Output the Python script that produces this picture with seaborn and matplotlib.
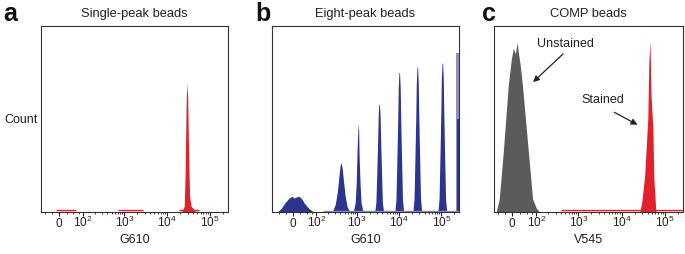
import matplotlib
matplotlib.use("Agg")
import matplotlib.pyplot as plt
from matplotlib.ticker import NullFormatter
import seaborn as sns

# ---- data (x in fluorescence units, y in % of axis height) ----
# panel a: single-peak beads (G610)
a_peak_x = [22300, 24900, 26200, 27700, 28800, 30000, 31700, 33400, 36200, 40300, 44900]
a_peak_y = [0.5, 3, 20, 60, 69, 62, 30, 8, 3, 2, 0.5]
a_low_start = [-10, 714, 19000]
a_low_end = [63, 2740, 55700]
a_low_level = 1.0

# panel b: eight-peak beads (G610)
b_blank_x = [-58, -41, -27, -13, -3, 3, 10, 20, 30, 41, 58, 78]
b_blank_y = [0, 2, 5, 7.5, 8.5, 7.5, 8, 8.5, 7, 4.5, 2, 0.3]
b_p2_x = [253, 298, 333, 371, 392, 414, 437, 461, 515, 573, 674]
b_p2_y = [0, 4, 10, 20, 25, 26.5, 24, 19, 9, 3, 0]
b_p3_x = [808, 898, 948, 1001, 1053, 1085, 1114, 1175, 1240, 1379]
b_p3_y = [0, 5, 15, 35, 47.5, 44, 30, 15, 5, 0]
b_p4_x = [2617, 2790, 2960, 3077, 3160, 3280, 3387, 3517, 3613, 3753, 3981, 4247]
b_p4_y = [0, 5.2, 24.9, 38.9, 51.6, 58, 58, 51.6, 38.9, 24.9, 5.2, 0]
b_p5_x = [7841, 8360, 8870, 9219, 9469, 9829, 10148, 10537, 10827, 11247, 11926, 12725]
b_p5_y = [0, 6.8, 32.3, 50.3, 66.8, 75, 75, 66.8, 50.3, 32.3, 6.8, 0]
b_p6_x = [21046, 22439, 23807, 24745, 25416, 26380, 27239, 28284, 29061, 30188, 32010, 34155]
b_p6_y = [0, 7, 33.5, 52.3, 69.4, 78, 78, 69.4, 52.3, 33.5, 7, 0]
b_p7_x = [82653, 88127, 93497, 97183, 99814, 103605, 106975, 111081, 114134, 118557, 125716, 134139]
b_p7_y = [0, 7.2, 34.4, 53.6, 71.2, 80, 80, 71.2, 53.6, 34.4, 7.2, 0]
b_edge_x = [222000, 262144]
b_edge_y = [85.5, 85.5]
b_edge_core_x = [240000, 262144]
b_edge_core_y = [50, 50]

# panel c: COMP beads (V545)
c_unst_x = [-58, -45, -30, -13, -3.2, 3.2, 9.7, 16, 19.5, 26, 34, 58, 78, 100, 121]
c_unst_y = [0, 7, 32, 68, 82, 88, 85, 91, 86, 79, 68, 32, 7, 2, 0]
c_st_x = [26200, 29200, 34300, 40300, 42600, 45000, 46200, 47400, 52800, 55700, 62000]
c_st_y = [0, 5, 20, 50, 80, 92, 82, 65, 45, 18, 0]
c_low_start = [400]
c_low_end = [262144]
c_low_level = 1.0

major_ticks = [0, 1e2, 1e3, 1e4, 1e5]
major_labels = ["0", "$10^2$", "$10^3$", "$10^4$", "$10^5$"]
minor_ticks = ([-50, -25, 25, 50, 75]
               + [m * 1e2 for m in range(2, 10)]
               + [m * 1e3 for m in range(2, 10)]
               + [m * 1e4 for m in range(2, 10)]
               + [2e5])
x_left = [-68, -85, -68]

titles = ["Single-peak beads", "Eight-peak beads", "COMP beads"]
xlabels = ["G610", "G610", "V545"]
letters = ["a", "b", "c"]

RED = "#e3202b"
BLUE = "#2b3590"
GRAY = "#5b5b5d"
INK = "#222222"

sns.set_style("ticks")
plt.rcParams["font.family"] = ["Liberation Sans", "DejaVu Sans"]
plt.rcParams["mathtext.fontset"] = "custom"
plt.rcParams["mathtext.rm"] = "Liberation Sans"
plt.rcParams["mathtext.it"] = "Liberation Sans:italic"
plt.rcParams["mathtext.bf"] = "Liberation Sans:bold"

fig = plt.figure(figsize=(6.85, 2.55), dpi=100)
rects = [[41 / 685, 42 / 255, 187 / 685, 186 / 255],
         [272 / 685, 42 / 255, 187 / 685, 186 / 255],
         [494 / 685, 42 / 255, 189 / 685, 186 / 255]]
axes = [fig.add_axes(r) for r in rects]

for ax, title, xl, left in zip(axes, titles, xlabels, x_left):
    ax.set_xscale("asinh", linear_width=60)
    ax.set_xlim(left, 262144)
    ax.set_ylim(0, 100)
    ax.set_yticks([])
    ax.set_xticks(major_ticks, labels=major_labels)
    ax.set_xticks(minor_ticks, minor=True)
    ax.xaxis.set_minor_formatter(NullFormatter())
    ax.tick_params(axis="x", which="major", length=3, width=0.8,
                   direction="out", labelsize=8.5, pad=7.2, colors=INK)
    ax.tick_params(axis="x", which="minor", length=1.5, width=0.6,
                   direction="out", colors=INK)
    for lbl in ax.get_xticklabels():
        lbl.set_verticalalignment("baseline")
    for s in ax.spines.values():
        s.set_linewidth(0.8)
        s.set_color("#333333")
    ax.set_title(title, fontsize=9.3, pad=7, color=INK)
    ax.set_xlabel(xl, fontsize=9, labelpad=2.5, color=INK)

# panel a
ax = axes[0]
ax.hlines([a_low_level] * len(a_low_start), a_low_start, a_low_end, color=RED, lw=0.9)
ax.fill_between(a_peak_x, a_peak_y, 0, color=RED, lw=0)
ax.set_ylabel("Count", rotation=0, ha="right", va="center", fontsize=9, color=INK)
ax.yaxis.set_label_coords(-0.015, 0.5)

# panel b
ax = axes[1]
ax.hlines([0.6], [150], [262144], color="#8a8fb5", lw=1.0)
for xs, ys in [(b_blank_x, b_blank_y), (b_p2_x, b_p2_y), (b_p3_x, b_p3_y),
               (b_p4_x, b_p4_y), (b_p5_x, b_p5_y), (b_p6_x, b_p6_y), (b_p7_x, b_p7_y)]:
    ax.fill_between(xs, ys, 0, color=BLUE, lw=0)
ax.fill_between(b_edge_x, b_edge_y, 0, color="#8d92b8", lw=0)
ax.fill_between(b_edge_core_x, b_edge_core_y, 0, color=BLUE, lw=0)

# panel c
ax = axes[2]
ax.hlines([c_low_level] * len(c_low_start), c_low_start, c_low_end, color=RED, lw=0.9)
ax.fill_between(c_unst_x, c_unst_y, 0, color=GRAY, lw=0)
ax.fill_between(c_st_x, c_st_y, 0, color=RED, lw=0)
ax.text(0.376, 0.909, "Unstained", transform=ax.transAxes, ha="center", va="center",
        fontsize=9, color=INK)
ax.annotate("", xy=(0.196, 0.688), xytext=(0.376, 0.86), xycoords="axes fraction",
            arrowprops=dict(arrowstyle="-|>", color=INK, lw=0.9, mutation_scale=9))
ax.text(0.577, 0.608, "Stained", transform=ax.transAxes, ha="center", va="center",
        fontsize=9, color=INK)
ax.annotate("", xy=(0.772, 0.462), xytext=(0.624, 0.543), xycoords="axes fraction",
            arrowprops=dict(arrowstyle="-|>", color=INK, lw=0.9, mutation_scale=9))

for letter, xpos in zip(letters, [3, 255, 482]):
    fig.text(xpos / 685, 1 - 21 / 255, letter, fontsize=18, fontweight="bold",
             ha="left", va="baseline", color="#111111")

fig.savefig("out.png", dpi=100)
